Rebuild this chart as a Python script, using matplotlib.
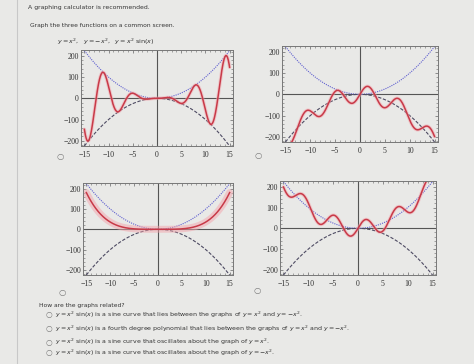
import numpy as np
import matplotlib.pyplot as plt

# --- data ---
x_range = (-15.0, 15.0)
x_ticks = [-15, -10, -5, 0, 5, 10, 15]
y_ticks = [-200, -100, 0, 100, 200]
osc_amp = 40
quartic_div = 280     # x^4 / 280 reaches ~180 at x = 15 (graph 3)

header = "A graphing calculator is recommended."
instr = "Graph the three functions on a common screen."
funcs = r"$y = x^2,\ \ y = -x^2,\ \ y = x^2\ \mathrm{sin}(x)$"
question = "How are the graphs related?"
options = [
    r"$y = x^2\ \mathrm{sin}(x)$ is a sine curve that lies between the graphs of $y = x^2$ and $y = -x^2$.",
    r"$y = x^2\ \mathrm{sin}(x)$ is a fourth degree polynomial that lies between the graphs of $y = x^2$ and $y = -x^2$.",
    r"$y = x^2\ \mathrm{sin}(x)$ is a sine curve that oscillates about the graph of $y = x^2$.",
    r"$y = x^2\ \mathrm{sin}(x)$ is a sine curve that oscillates about the graph of $y = -x^2$.",
]

x = np.linspace(x_range[0], x_range[1], 600)
upper = x**2
lower = -x**2
red_curves = [
    x**2 * np.sin(x),
    -x**2 + osc_amp * np.sin(x),
    x**4 / quartic_div,
    x**2 + osc_amp * np.sin(x),
]
halo_widths = [2.5, 2.5, 5, 2.5]

# --- figure ---
bg = "#e9e9e7"
fig = plt.figure(figsize=(4.74, 3.64), dpi=100, facecolor=bg)
W, H = 474, 364

def px_axes(l, t, r, b):
    return fig.add_axes([l / W, 1 - b / H, (r - l) / W, (b - t) / H])

boxes = [(81, 50, 233, 146), (282, 46, 438, 142),
         (83, 183, 233, 275), (280, 181, 436, 275)]
radios = [(60, 157), (258, 155), (62, 292), (257, 290)]

tick_font = dict(family="Liberation Serif", size=5.6, color="#333333")

for box, red, hw in zip(boxes, red_curves, halo_widths):
    ax = px_axes(*box)
    ax.set_facecolor(bg)
    ax.axhline(0, color="#555555", lw=0.8)
    ax.axvline(0, color="#555555", lw=0.8)
    ax.plot(x, upper, color="#6060d0", lw=0.8, ls=(0, (1, 1)))
    ax.plot(x, lower, color="#4d4a62", lw=0.8, ls=(0, (3, 1.5)))
    ax.plot(x, red, color="#f3a4ac", lw=hw, alpha=0.5, solid_capstyle="round")
    ax.plot(x, red, color="#c83a48", lw=1.1)
    ax.set_xlim(-15.7, 15.7)
    ax.set_ylim(-225, 228)
    ax.set_xticks(x_ticks)
    ax.set_yticks(y_ticks)
    ax.set_xticklabels([str(t).replace("-", "\u2212") for t in x_ticks], **tick_font)
    ax.set_yticklabels([str(t).replace("-", "\u2212") for t in y_ticks], **tick_font)
    ax.set_xticks(np.arange(-15, 16, 1), minor=True)
    ax.set_yticks(np.arange(-220, 221, 20), minor=True)
    ax.tick_params(which="both", direction="in", top=True, right=True,
                   color="#666666")
    ax.tick_params(axis="x", pad=3.5)
    ax.tick_params(axis="y", pad=1.5)
    ax.tick_params(which="major", length=2.5, width=0.5)
    ax.tick_params(which="minor", length=1.2, width=0.4)
    for s in ax.spines.values():
        s.set_color("#777777")
        s.set_linewidth(0.7)

# radio circles under each graph
for cx, cy in radios:
    fig.text(cx / W, 1 - cy / H, "\u25CB", fontsize=6, color="#777777",
             ha="center", va="center", family="DejaVu Sans")

# panel border line on the left
fig.add_artist(plt.Line2D([17 / W, 17 / W], [0, 1], color="#c8c8c8", lw=0.8))

txt = dict(family="DejaVu Sans", color="#333333")
fig.text(28 / W, 1 - 7 / H, header, fontsize=4.4, va="center", **txt)
fig.text(30 / W, 1 - 26 / H, instr, fontsize=4.35, va="center", **txt)
fig.text(57 / W, 1 - 42 / H, funcs, fontsize=4.6, va="center", **txt)
fig.text(39 / W, 1 - 305 / H, question, fontsize=4.3, va="center", **txt)

opt_y = [315, 329, 342, 353]
for y, s in zip(opt_y, options):
    fig.text(49 / W, 1 - y / H, "\u25CB", fontsize=5.5, color="#777777",
             ha="center", va="center", family="DejaVu Sans")
    fig.text(55 / W, 1 - y / H, s, fontsize=4.5, va="center", **txt)

fig.savefig("out.png", dpi=100, facecolor=bg)
